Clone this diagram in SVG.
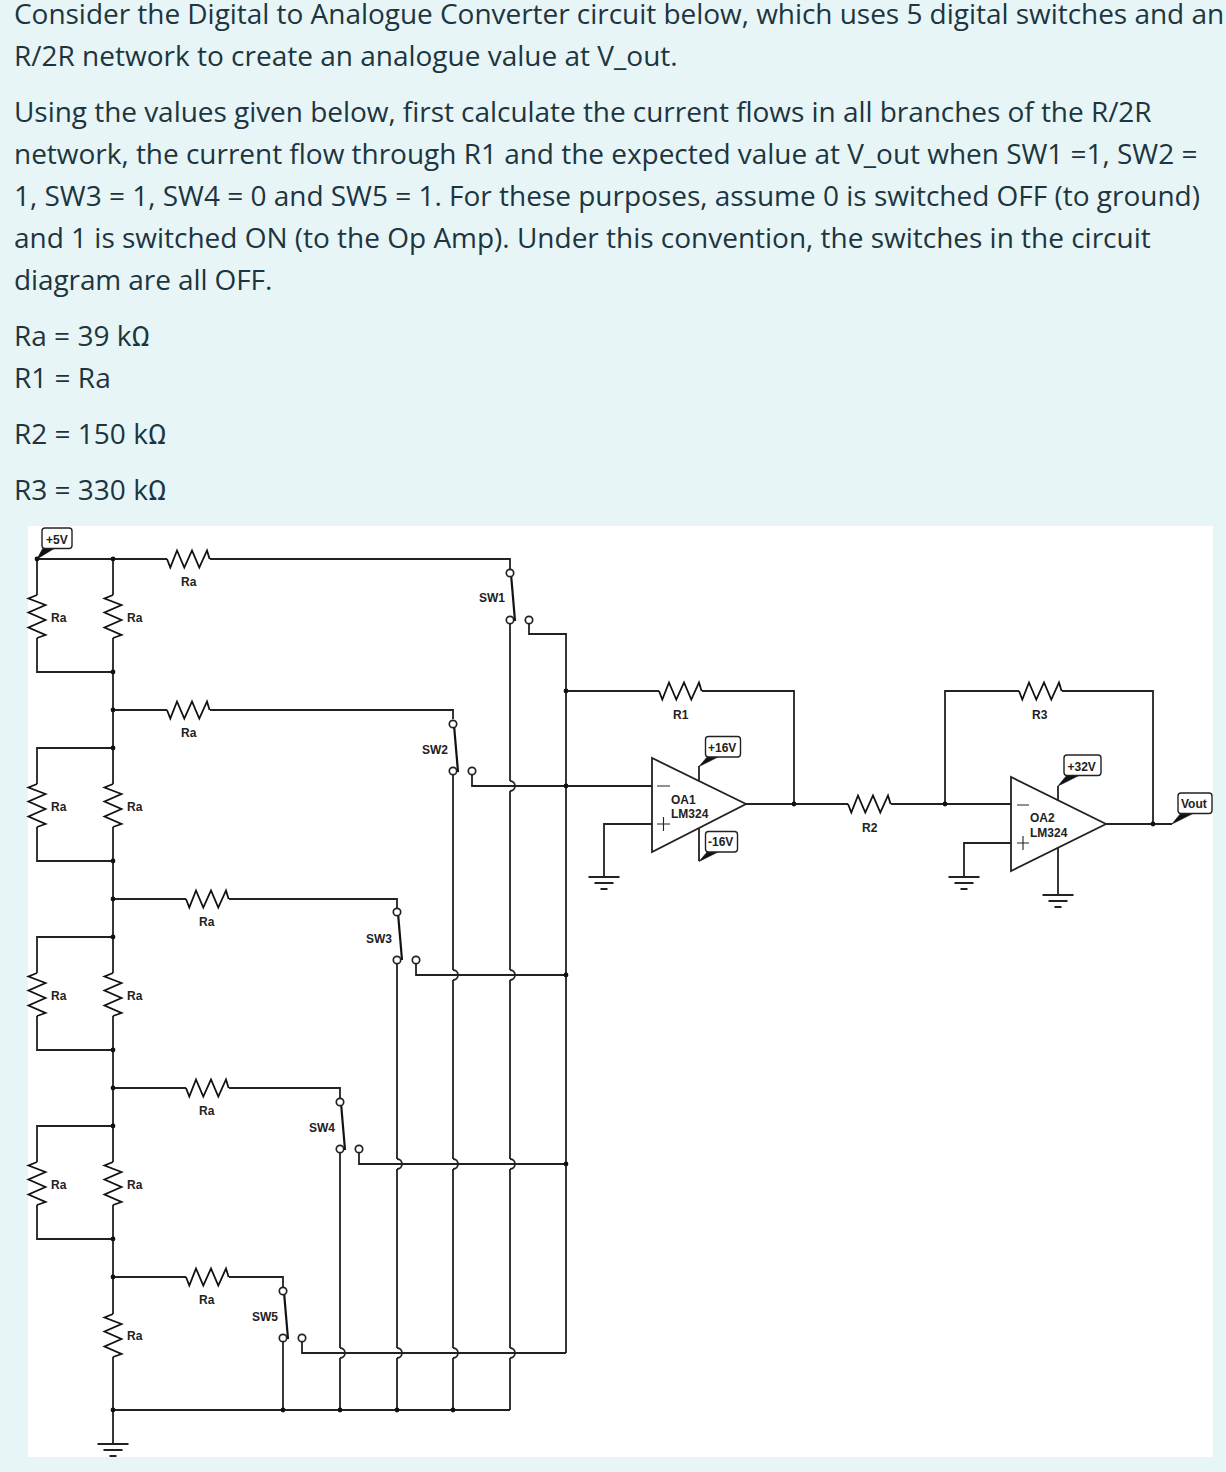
<svg xmlns="http://www.w3.org/2000/svg" width="1226" height="1472" viewBox="0 0 1226 1472">
<style>
.q{font-family:"Open Sans","Noto Sans",sans-serif;font-size:28px;fill:#1d3540}
.om{font-family:Roboto,"Open Sans",sans-serif}
.l{font-family:"Liberation Sans",Arial,sans-serif;font-size:12px;font-weight:bold;fill:#222}
.o{font-family:"Liberation Sans",Arial,sans-serif;font-size:12px;font-weight:bold;fill:#222}
.w{fill:none;stroke:#222;stroke-width:1.8}
.r{fill:none;stroke:#111;stroke-width:1.8;stroke-linejoin:miter}
.c{fill:#fff;stroke:#222;stroke-width:1.7}
.b{fill:#fff;stroke:#222;stroke-width:1.4}
.d{fill:#111}
.f{fill:#111;stroke:#111;stroke-width:.6}
.a{fill:none;stroke:#111;stroke-width:2.2}
.t{stroke-width:1.1}
</style>
<defs>
<path id="rh" class="r" d="M0 0L3.3 8.5L10 -8.5L17.3 8.5L25 -8.5L32.3 8.5L40 -8.5L42.6 0"/>
<path id="rv" class="r" d="M0 0L-8.5 3.5L8.5 10L-8.5 17.5L8.5 25L-8.5 32.5L8.5 40L0 43"/>
<path id="gnd" class="w" d="M-15.500 0H15.500M-9.500 6H9.500M-3.500 12H3.500"/>
<circle id="j" class="d" r="2.400"/>
<circle id="t" class="c" r="3.700"/>
<path id="lev" class="a" d="M0 0L4 47"/>
</defs>
<rect width="1226" height="1472" fill="#e8f5f6"/>
<rect x="28" y="526" width="1185" height="931" fill="#fff"/>
<g id="question">
<text class="q" x="14" y="24" letter-spacing="-0.035">Consider the Digital to Analogue Converter circuit below, which uses 5 digital switches and an</text>
<text class="q" x="14" y="66">R/2R network to create an analogue value at V_out.</text>
<text class="q" x="14" y="122" letter-spacing="-0.044">Using the values given below, first calculate the current flows in all branches of the R/2R</text>
<text class="q" x="14" y="164" letter-spacing="-0.023">network, the current flow through R1 and the expected value at V_out when SW1 =1, SW2 =</text>
<text class="q" x="14" y="206" letter-spacing="-0.011">1, SW3 = 1, SW4 = 0 and SW5 = 1. For these purposes, assume 0 is switched OFF (to ground)</text>
<text class="q" x="14" y="248" letter-spacing="-0.011">and 1 is switched ON (to the Op Amp). Under this convention, the switches in the circuit</text>
<text class="q" x="14" y="290" letter-spacing="-0.1">diagram are all OFF.</text>
<text class="q" x="14" y="346">Ra = 39 k<tspan class="om">Ω</tspan></text>
<text class="q" x="14" y="388">R1 = Ra</text>
<text class="q" x="14" y="444">R2 = 150 k<tspan class="om">Ω</tspan></text>
<text class="q" x="14" y="500">R3 = 330 k<tspan class="om">Ω</tspan></text>
</g>
<g id="connectors">
<path class="w" d="M37 559H167M210 559H510V569"/>
<path class="w" d="M37 559V595M37 638V672H113M113 559V595M113 638V784M113 827V973M113 1016V1162M113 1205V1314M113 1357V1444"/>
<path class="w" d="M113 710H167M210 710H453V719"/>
<path class="w" d="M113 748H37V784M37 827V861H113"/>
<path class="w" d="M113 899H186M229 899H397V908"/>
<path class="w" d="M113 937H37V973M37 1016V1050H113"/>
<path class="w" d="M113 1088H186M229 1088H340V1098"/>
<path class="w" d="M113 1126H37V1162M37 1205V1239H113"/>
<path class="w" d="M113 1277H186M229 1277H283V1287"/>
<path class="w" d="M113 1410H510"/>
<path class="w" d="M510 624V781M510 791V970M510 980V1159M510 1169V1348M510 1358V1410"/>
<path class="w" d="M453 775V970M453 980V1159M453 1169V1348M453 1358V1410"/>
<path class="w" d="M397 964V1159M397 1169V1348M397 1358V1410"/>
<path class="w" d="M340 1153V1348M340 1358V1410"/>
<path class="w" d="M283 1342V1410"/>
<path class="w" d="M529 624V634H566V1353"/>
<path class="w" d="M472 775V786H510M510 781A5 5 0 0 1 510 791M510 786H652"/>
<path class="w" d="M416 964V975H453M453 970A5 5 0 0 1 453 980M453 975H510M510 970A5 5 0 0 1 510 980M510 975H566"/>
<path class="w" d="M359 1153V1164H397M397 1159A5 5 0 0 1 397 1169M397 1164H453M453 1159A5 5 0 0 1 453 1169M453 1164H510M510 1159A5 5 0 0 1 510 1169M510 1164H566"/>
<path class="w" d="M302 1342V1353H340M340 1348A5 5 0 0 1 340 1358M340 1353H397M397 1348A5 5 0 0 1 397 1358M397 1353H453M453 1348A5 5 0 0 1 453 1358M453 1353H510M510 1348A5 5 0 0 1 510 1358M510 1353H566"/>
<path class="w" d="M566 691H659M702 691H794V804"/>
<path class="w" d="M746 804H848M891 804H1011"/>
<path class="w" d="M945 804V691H1019M1062 691H1153V824"/>
<path class="w" d="M1106 824H1172"/>
<path class="w" d="M652 824H604V877"/>
<path class="w" d="M1011 843H964V877"/>
<path class="w" d="M1058 848V895"/>
<path class="w" d="M699 781V766"/>
<path class="w" d="M699 828V861"/>
<path class="w" d="M1058 800V786"/>
<g id="junctions">
<use href="#j" x="37" y="559"/><use href="#j" x="113" y="559"/><use href="#j" x="113" y="672"/><use href="#j" x="113" y="710"/><use href="#j" x="113" y="748"/><use href="#j" x="113" y="861"/><use href="#j" x="113" y="899"/><use href="#j" x="113" y="937"/><use href="#j" x="113" y="1050"/><use href="#j" x="113" y="1088"/><use href="#j" x="113" y="1126"/><use href="#j" x="113" y="1239"/><use href="#j" x="113" y="1277"/><use href="#j" x="113" y="1410"/><use href="#j" x="283" y="1410"/><use href="#j" x="340" y="1410"/><use href="#j" x="397" y="1410"/><use href="#j" x="453" y="1410"/><use href="#j" x="566" y="691"/><use href="#j" x="566" y="786"/><use href="#j" x="566" y="975"/><use href="#j" x="566" y="1164"/><use href="#j" x="794" y="804"/><use href="#j" x="945" y="804"/><use href="#j" x="1153" y="824"/>
</g>
</g>
<g id="Ra-left-1"><use href="#rv" x="37" y="595"/><text class="l" x="51" y="622">Ra</text></g>
<g id="Ra-left-2"><use href="#rv" x="37" y="784"/><text class="l" x="51" y="811">Ra</text></g>
<g id="Ra-left-3"><use href="#rv" x="37" y="973"/><text class="l" x="51" y="1000">Ra</text></g>
<g id="Ra-left-4"><use href="#rv" x="37" y="1162"/><text class="l" x="51" y="1189">Ra</text></g>
<g id="Ra-mid-1"><use href="#rv" x="113" y="595"/><text class="l" x="127" y="622">Ra</text></g>
<g id="Ra-mid-2"><use href="#rv" x="113" y="784"/><text class="l" x="127" y="811">Ra</text></g>
<g id="Ra-mid-3"><use href="#rv" x="113" y="973"/><text class="l" x="127" y="1000">Ra</text></g>
<g id="Ra-mid-4"><use href="#rv" x="113" y="1162"/><text class="l" x="127" y="1189">Ra</text></g>
<g id="Ra-mid-5"><use href="#rv" x="113" y="1314"/><text class="l" x="127" y="1340">Ra</text></g>
<g id="Ra-h-1"><use href="#rh" x="167" y="559"/><text class="l" x="181" y="586.300">Ra</text></g>
<g id="Ra-h-2"><use href="#rh" x="167" y="710"/><text class="l" x="181" y="737.300">Ra</text></g>
<g id="Ra-h-3"><use href="#rh" x="186" y="899"/><text class="l" x="199" y="926.300">Ra</text></g>
<g id="Ra-h-4"><use href="#rh" x="186" y="1088"/><text class="l" x="199" y="1115.300">Ra</text></g>
<g id="Ra-h-5"><use href="#rh" x="186" y="1277"/><text class="l" x="199" y="1304.300">Ra</text></g>
<g id="SW1"><use href="#lev" x="511" y="574"/><use href="#t" x="510" y="573"/><use href="#t" x="510" y="620"/><use href="#t" x="529" y="620"/><text class="l" x="479" y="602.300">SW1</text></g>
<g id="SW2"><use href="#lev" x="454" y="725"/><use href="#t" x="453" y="724"/><use href="#t" x="453" y="771"/><use href="#t" x="472" y="771"/><text class="l" x="422" y="754">SW2</text></g>
<g id="SW3"><use href="#lev" x="398" y="913"/><use href="#t" x="397" y="912"/><use href="#t" x="397" y="960"/><use href="#t" x="416" y="960"/><text class="l" x="366" y="943">SW3</text></g>
<g id="SW4"><use href="#lev" x="341" y="1103"/><use href="#t" x="340" y="1102"/><use href="#t" x="340" y="1149"/><use href="#t" x="359" y="1149"/><text class="l" x="309" y="1132">SW4</text></g>
<g id="SW5"><use href="#lev" x="284" y="1292"/><use href="#t" x="283" y="1291"/><use href="#t" x="283" y="1338"/><use href="#t" x="302" y="1338"/><text class="l" x="252" y="1321">SW5</text></g>
<g id="R1"><use href="#rh" x="659" y="691"/><text class="l" x="673" y="718.500">R1</text></g>
<g id="R2"><use href="#rh" x="848" y="804"/><text class="l" x="862" y="832">R2</text></g>
<g id="R3"><use href="#rh" x="1019" y="691"/><text class="l" x="1032" y="718.500">R3</text></g>
<g id="OA1">
<path class="w" d="M652 758V852L746 804Z"/>
<path class="w t" d="M657 786H670M657 824H670M663.500 817V831"/>
<text class="o" x="671" y="803.500">OA1</text><text class="o" x="671" y="818">LM324</text>
</g>
<g id="OA2">
<path class="w" d="M1011 777V871L1106 824Z"/>
<path class="w t" d="M1017 805H1029M1017 843H1029M1023 836V850"/>
<text class="o" x="1030" y="822">OA2</text><text class="o" x="1030" y="837">LM324</text>
</g>
<g id="gnd-main"><use href="#gnd" x="113" y="1444"/></g>
<g id="gnd-oa1"><use href="#gnd" x="604" y="877"/></g>
<g id="gnd-oa2"><use href="#gnd" x="964" y="877"/></g>
<g id="gnd-oa2-supply"><use href="#gnd" x="1058" y="895"/></g>
<g id="label-5V">
<path class="f" d="M37 559L43 548H55Z"/>
<rect class="b" x="42" y="528" width="30" height="20.500" rx="3"/><text class="l" x="46" y="543.500">+5V</text>
</g>
<g id="label-16V">
<path class="f" d="M699 766.500L708 756H720Z"/>
<rect class="b" x="705.500" y="736.500" width="35" height="20.500" rx="3"/><text class="l" x="708" y="751.500">+16V</text>
</g>
<g id="label-m16V">
<path class="f" d="M699 861.500L708 851H720Z"/>
<rect class="b" x="705.500" y="831.500" width="32" height="20.500" rx="3"/><text class="l" x="708" y="846">-16V</text>
</g>
<g id="label-32V">
<path class="f" d="M1058 786L1067 775H1080Z"/>
<rect class="b" x="1064" y="755" width="37" height="20.500" rx="3"/><text class="l" x="1067.500" y="770.500">+32V</text>
</g>
<g id="label-Vout">
<path class="f" d="M1172 824L1181 813H1194Z"/>
<rect class="b" x="1178" y="793" width="34" height="20.500" rx="3"/><text class="l" x="1181" y="808">Vout</text>
</g>
</svg>
